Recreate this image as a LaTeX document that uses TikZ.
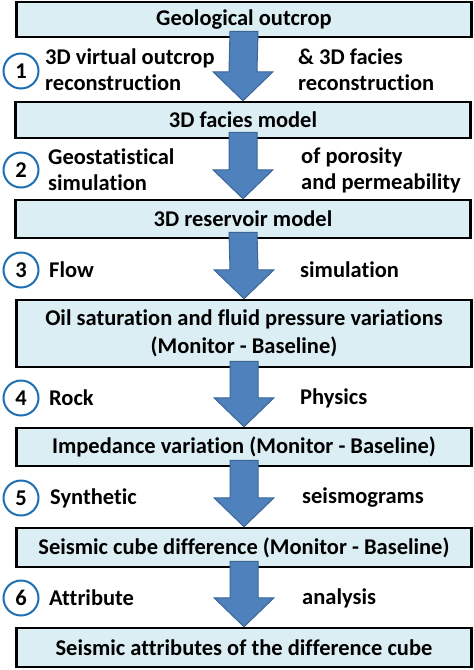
\documentclass[tikz,border=0pt]{standalone}
\usepackage{fontspec}
\setmainfont{Carlito}[Ligatures=NoCommon]
\usetikzlibrary{calc}
\definecolor{boxfill}{HTML}{DBEEF4}
\definecolor{arrowfill}{HTML}{4F81BD}
\definecolor{arrowline}{HTML}{3A6596}
\definecolor{ringblue}{HTML}{1F6FB2}
\tikzstyle{cbox}=[rectangle, draw, line width=2.5pt, fill=boxfill, minimum width=455pt, align=center, font=\fontsize{22.5}{28}\selectfont\bfseries]
\tikzstyle{cnum}=[circle, draw=ringblue, line width=2pt, minimum size=35pt, inner sep=0pt, font=\fontsize{22.5}{24}\selectfont\bfseries]
\tikzstyle{ctext}=[anchor=west, align=left, inner sep=0pt, font=\fontsize{22.5}{26}\selectfont\bfseries]
\tikzstyle{bigarrow}=[fill=arrowfill, draw=arrowline, line width=1pt]

\begin{document}
\begin{tikzpicture}[x=1pt, y=-1pt]

\useasboundingbox (0,0) rectangle (474,670);

\node[cbox, minimum height=35pt] (n1) at (244,19.5) {Geological outcrop};
\node[cbox, minimum height=36pt] (n2) at (243,120) {3D facies model};
\node[cbox, minimum height=38pt] (n3) at (243,219) {3D reservoir model};
\node[cbox, minimum height=67pt] (n4) at (244,333.5) {Oil saturation and fluid pressure variations\\(Monitor - Baseline)};
\node[cbox, minimum height=38pt] (n5) at (244,447) {Impedance variation (Monitor - Baseline)};
\node[cbox, minimum height=39pt] (n6) at (244,547.5) {Seismic cube difference (Monitor - Baseline)};
\node[cbox, minimum height=39pt] (n7) at (244,647.5) {Seismic attributes of the difference cube};

% block arrows between the steps
\foreach \a/\b in {n1/n2, n2/n3, n3/n4, n4/n5, n5/n6, n6/n7}
  \draw[bigarrow] ($(\a.south)+(-14,-7)$) -- ($(\a.south)+(14,-7)$)
    -- ($(\b.north)+(14,-29)$) -- ($(\b.north)+(30,-29)$) -- (\b.north)
    -- ($(\b.north)+(-30,-29)$) -- ($(\b.north)+(-14,-29)$) -- cycle;

\node[cnum] (s1) at (21,71) {1};
\node[ctext] (l1) at (45,70) {3D virtual outcrop\\reconstruction};
\node[ctext] (r1) at (298,70) {\& 3D facies\\reconstruction};

\node[cnum] (s2) at (21,170) {2};
\node[ctext] (l2) at (48,170) {Geostatistical\\simulation};
\node[ctext] (r2) at (301,170) {of porosity\\and permeability};

\node[cnum] (s3) at (21,270) {3};
\node[ctext] (l3) at (49,270) {Flow};
\node[ctext] (r3) at (300,270) {simulation};

\node[cnum] (s4) at (21,398) {4};
\node[ctext] (l4) at (49,398) {Rock};
\node[ctext] (r4) at (300,398) {Physics};

\node[cnum] (s5) at (21,498) {5};
\node[ctext] (l5) at (50,498) {Synthetic};
\node[ctext] (r5) at (302,498) {seismograms};

\node[cnum] (s6) at (21,598) {6};
\node[ctext] (l6) at (49,598) {Attribute};
\node[ctext] (r6) at (302,598) {analysis};

\end{tikzpicture}
\end{document}
